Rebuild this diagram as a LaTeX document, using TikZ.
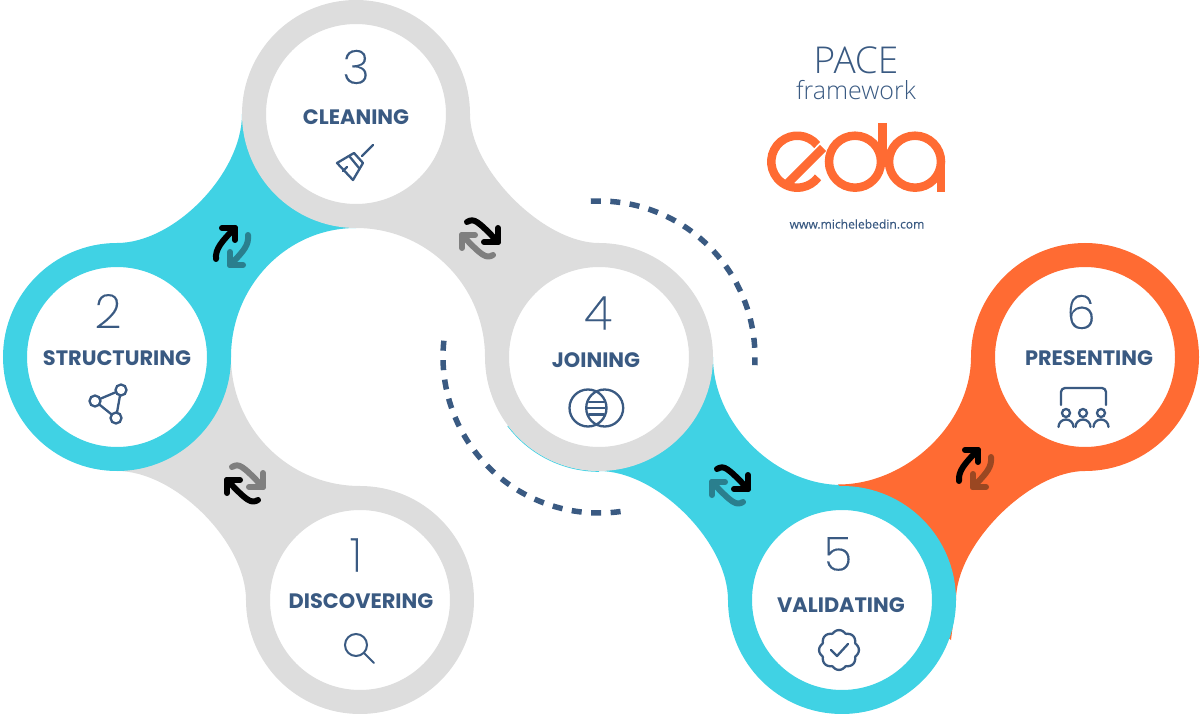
\documentclass[tikz,border=0pt]{standalone}
\usepackage{fontspec}
\usetikzlibrary{calc}
\setmainfont{Open Sans}
\newfontfamily\numf{Poppins ExtraLight}[FakeBold=0.2]
\newfontfamily\lblf{Poppins}[UprightFont=*-Bold]
\newfontfamily\headf{Open Sans Light}
\newfontfamily\webf{Open Sans}[FakeBold=0.35]
\definecolor{ringgray}{HTML}{DDDDDD}
\definecolor{ringcyan}{HTML}{40D2E4}
\definecolor{ringorange}{HTML}{FF6B33}
\definecolor{navy}{HTML}{3A5A82}
\definecolor{graydark}{HTML}{7F7F7F}
\definecolor{cyandark}{HTML}{2A7F8E}
\definecolor{orangedark}{HTML}{9A4722}
\tikzset{
  ring/.style={circle,draw=#1,fill=white,line width=24pt,minimum size=204pt,inner sep=0pt,outer sep=0pt},
  numtext/.style={navy,font=\numf\fontsize{47}{47}\selectfont,inner sep=0pt},
  lbltext/.style={navy,font=\lblf\fontsize{20.9}{20.9}\selectfont,inner sep=0pt},
  syncline/.style={line width=6pt,line cap=round,line join=round},
  icon/.style={draw=navy,line width=2.3pt,line cap=round,line join=round},
  dot/.style={circle,draw=navy,line width=2.3pt,minimum size=#1,inner sep=0pt,outer sep=0pt},
  dashline/.style={draw=navy,line width=5.5pt,dash pattern=on 10pt off 9.5pt},
  logo/.style={draw=ringorange,line width=8.5pt}
}
\newcommand{\blobfill}[9]{% colour, A, C1, B, D, C2, E, k1, k2
  \fill[#1] (#2) .. controls ($(#2)!#8!(#3)$) and ($(#4)!#8!(#3)$) .. (#4)
    -- (#5) .. controls ($(#5)!#9!(#6)$) and ($(#7)!#9!(#6)$) .. (#7) -- cycle;}
\newcommand{\syncA}[3]{\begin{scope}[shift={(#1)}]
  \draw[syncline,draw=#2] (-16,12) .. controls (-17,2) and (-10,-6) .. (3,-19);
  \draw[syncline,draw=#2] (-10,-19) -- (3,-19) -- (3,-7);
  \draw[syncline,draw=#3] (16,-12) .. controls (17,-2) and (12,4) .. (-2,18);
  \draw[syncline,draw=#3] (11,18) -- (-2,18) -- (-2,5);
\end{scope}}
\newcommand{\syncB}[3]{\begin{scope}[shift={(#1)}]
  \draw[syncline,draw=#2] (-13,-16) .. controls (-6,-20) and (-3,-18) .. (18,4);
  \draw[syncline,draw=#2] (18,-10) -- (18,4) -- (4,4);
  \draw[syncline,draw=#3] (13,17) .. controls (6,21) and (2,18) .. (-18,-3);
  \draw[syncline,draw=#3] (-5,-3) -- (-18,-3) -- (-18,10);
\end{scope}}
\begin{document}
\begin{tikzpicture}[x=1pt,y=-1pt]
\useasboundingbox (0,0) rectangle (1200,714);
% connecting shapes
\blobfill{ringcyan}{117,243}{242,243}{242,114}{356,228}{231,228}{231,357}{0.46}{0.5523}
\blobfill{ringgray}{117,471}{246,471}{246,600}{360,486}{231,486}{231,357}{0.45}{0.5523}
\blobfill{ringgray}{356,228}{485,228}{485,357}{599,243}{470,243}{470,114}{0.5523}{0.43}
\blobfill{ringcyan}{713,357}{713,485}{842,485}{728,600}{728,471}{599,471}{0.52}{0.45}
\blobfill{ringorange}{838,484.5}{971,484.5}{971,357}{1085,471}{956,471}{956,600}{0.52}{0.43}
\fill[ringorange] (956,600) -- (951,640) -- (900,600) -- cycle;
\draw[ringcyan,line width=1pt] (599,471.3) arc[start angle=90,end angle=143,radius=114.3];
% rings
\node[ring=ringgray]  (c1) at (360,600) {};
\node[ring=ringcyan]  (c2) at (117,357) {};
\node[ring=ringgray]  (c3) at (356,114) {};
\node[ring=ringgray]  (c4) at (599,357) {};
\node[ring=ringcyan]  (c5) at (842,600) {};
\node[ring=ringorange] (c6) at (1085,357) {};
% numbers
\node[numtext] (n1) at (356,555) {1};
\node[numtext] (n2) at (108,311) {2};
\node[numtext] (n3) at (356,67) {3};
\node[numtext] (n4) at (598,313) {4};
\node[numtext] (n5) at (838,554) {5};
\node[numtext] (n6) at (1081,312) {6};
% labels
\node[lbltext] (l1) at (361,601) {DISCOVERING};
\node[lbltext] (l2) at (117,358) {STRUCTURING};
\node[lbltext] (l3) at (356,117) {CLEANING};
\node[lbltext] (l4) at (596,360) {JOINING};
\node[lbltext] (l5) at (841,605) {VALIDATING};
\node[lbltext] (l6) at (1089,358) {PRESENTING};
% sync icons
\syncA{232,247}{black}{cyandark}
\syncA{975,469}{black}{orangedark}
\syncB{480,238}{black}{graydark}
\syncB{730,485}{black}{cyandark}
\syncB{245,483}{graydark}{black}
% dashed arcs
\draw[dashline] ($(c4.center)+(-93:156)$) arc[start angle=-93,end angle=3,radius=156];
\draw[dashline] ($(c4.center)+(186:156)$) arc[start angle=186,end angle=82,radius=156];
% magnifier
\node[dot=22pt,line width=2pt] (mg) at (356,645) {};
\coordinate (mgh) at (374,663);
\draw[icon,line width=2pt] (mg.-45) -- (mgh);
% broom
\draw[icon] (337,163) -- (354,153) -- (363,163) -- (353,180) -- cycle;
\draw[icon] (350,157) -- (359,168);
\draw[icon] (343,171) -- (347,167);
\draw[icon] (362,156) -- (373,145);
% network
\node[dot=11pt] (na) at (95,401) {};
\node[dot=11pt] (nb) at (121,390) {};
\node[dot=11pt] (nc) at (116,418) {};
\draw[icon] (na) -- (nb);
\draw[icon] (nb) -- (nc);
\draw[icon] (nc) -- (na);
% venn
\node[dot=37pt] (va) at (588,408) {};
\node[dot=37pt] (vb) at (604.7,408) {};
\draw[icon] (589,402) -- (604,402);
\draw[icon] (587.5,408.3) -- (605,408.3);
\draw[icon] (589,414.5) -- (604,414.5);
% badge
\draw[icon] plot[samples=121,domain=0:360,variable=\t] ({839+(17.4+2.5*abs(cos(4*\t)))*cos(\t)},{650+(17.4+2.5*abs(cos(4*\t)))*sin(\t)});
\draw[icon] (831,650) -- (837,656) -- (848,644);
% audience
\draw[icon,rounded corners=4pt] (1061,405) -- (1061,388) -- (1106,388) -- (1106,405);
\foreach \hx/\nm in {1066/pa,1083/pb,1101/pc}{
  \node[dot=8pt] (\nm) at (\hx,413) {};
  \draw[icon] (\hx-7.5,427) arc[start angle=180,end angle=360,radius=7.5];
}
% header
\node[navy,font=\headf\fontsize{37}{37}\selectfont,inner sep=0pt] (pace) at (856,60) {PACE};
\node[navy,font=\headf\fontsize{25}{25}\selectfont,inner sep=0pt] (fw) at (856,90) {framework};
\node[navy,font=\webf\fontsize{12.1}{12.1}\selectfont,inner sep=0pt] (web) at (857,224) {www.michelebedin.com};
% logo
\draw[logo] (797.3,161.7) ++(-40:26) arc[start angle=-40,end angle=-323,radius=26];
\draw[logo] (788,183) -- (823,148);
\draw[logo] (855,161.7) circle[radius=26];
\draw[logo] (882.5,123) -- (882.5,164);
\draw[logo] (915,161.7) circle[radius=26];
\draw[logo] (941,161.7) -- (941,192);
\end{tikzpicture}
\end{document}
